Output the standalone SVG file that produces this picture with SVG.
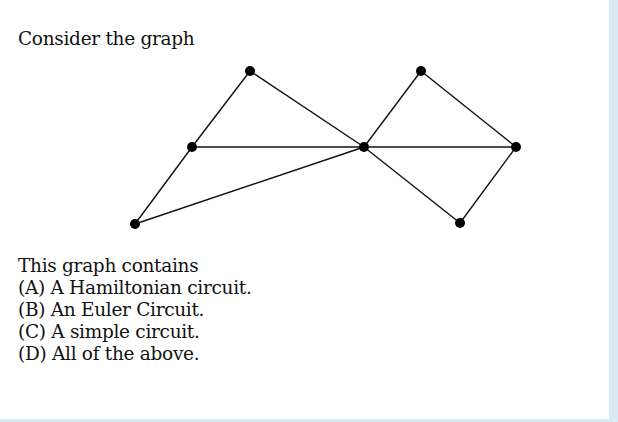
<svg xmlns="http://www.w3.org/2000/svg" width="618" height="422" viewBox="0 0 618 422">
<style>
.t{font-family:"DejaVu Serif",serif;font-size:18.5px;fill:#111;letter-spacing:-0.3px}
.e line{stroke:#111;stroke-width:1.4}
.n circle{fill:#000}
</style>
<rect width="618" height="422" fill="#d9eaf5"/>
<rect width="609" height="419" fill="#fff"/>
<text class="t" x="18" y="45">Consider the graph</text>
<g class="e" id="edges">
<line x1="250" y1="71" x2="192" y2="147"/>
<line x1="250" y1="71" x2="364" y2="147"/>
<line x1="421" y1="71" x2="364" y2="147"/>
<line x1="421" y1="71" x2="516" y2="147"/>
<line x1="192" y1="147" x2="364" y2="147"/>
<line x1="192" y1="147" x2="135" y2="224"/>
<line x1="135" y1="224" x2="364" y2="147"/>
<line x1="364" y1="147" x2="516" y2="147"/>
<line x1="364" y1="147" x2="460" y2="223"/>
<line x1="460" y1="223" x2="516" y2="147"/>
</g>
<g class="n">
<g id="v1"><circle cx="250" cy="71" r="5"/></g>
<g id="v2"><circle cx="421" cy="71" r="5"/></g>
<g id="v3"><circle cx="192" cy="147" r="5"/></g>
<g id="v4"><circle cx="364" cy="147" r="5"/></g>
<g id="v5"><circle cx="516" cy="147" r="5"/></g>
<g id="v6"><circle cx="135" cy="224" r="5"/></g>
<g id="v7"><circle cx="460" cy="223" r="5"/></g>
</g>
<text class="t" x="18" y="272">This graph contains</text>
<text class="t" x="18" y="294">(A) A Hamiltonian circuit.</text>
<text class="t" x="18" y="316">(B) An Euler Circuit.</text>
<text class="t" x="18" y="338">(C) A simple circuit.</text>
<text class="t" x="18" y="360">(D) All of the above.</text>
</svg>
